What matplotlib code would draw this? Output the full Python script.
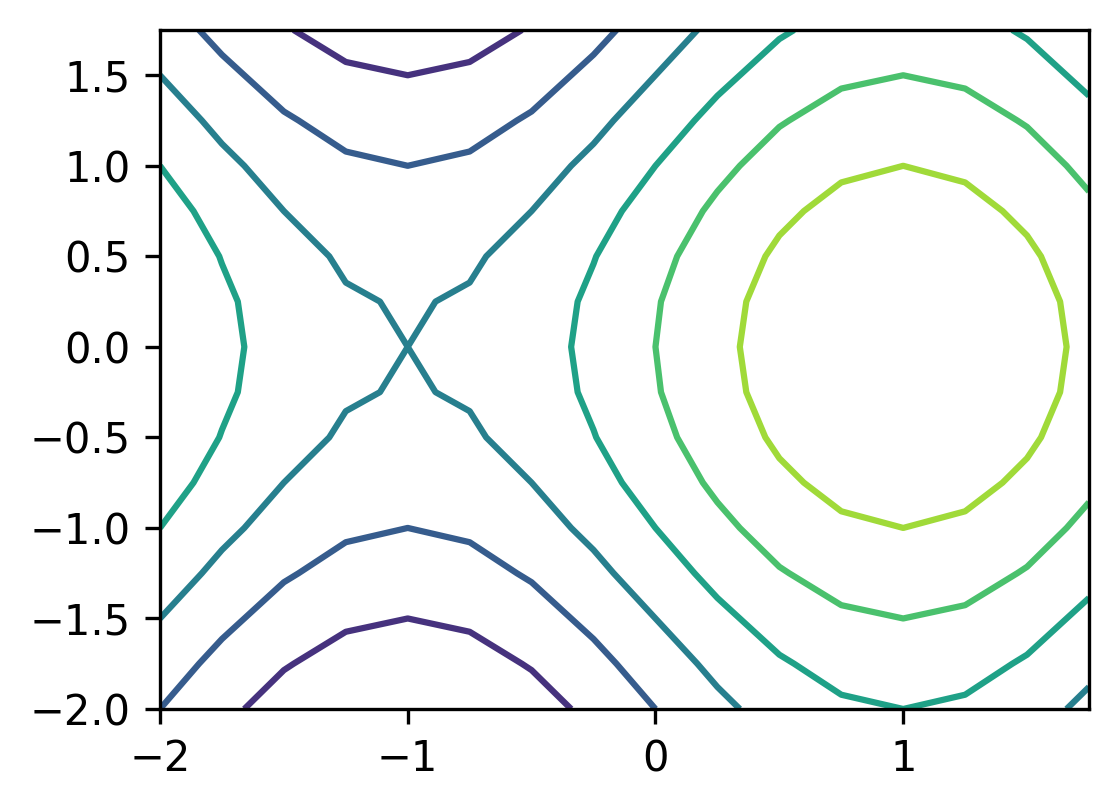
import matplotlib
matplotlib.use("Agg")
import matplotlib.pyplot as plt
import numpy as np

# grid positions (step 0.25)
x_vals = [-2.0, -1.75, -1.5, -1.25, -1.0, -0.75, -0.5, -0.25,
          0.0, 0.25, 0.5, 0.75, 1.0, 1.25, 1.5, 1.75]
y_vals = [-2.0, -1.75, -1.5, -1.25, -1.0, -0.75, -0.5, -0.25,
          0.0, 0.25, 0.5, 0.75, 1.0, 1.25, 1.5, 1.75]

# surface: it splits into a part along x and a part along y
zx_part = [0.0, -0.3827, -0.7071, -0.9239, -1.0, -0.9239, -0.7071, -0.3827,
           0.0, 0.3827, 0.7071, 0.9239, 1.0, 0.9239, 0.7071, 0.3827]
zy_part = [-0.5, -0.2588, 0.0, 0.2588, 0.5, 0.7071, 0.866, 0.9659,
           1.0, 0.9659, 0.866, 0.7071, 0.5, 0.2588, 0.0, -0.2588]

X, Y = np.meshgrid(x_vals, y_vals)
Z = np.add.outer(np.array(zy_part), np.array(zx_part))

fig = plt.figure(figsize=(1120 / 300, 808 / 300), dpi=300)
ax = fig.add_axes([160 / 1120, 1 - 709 / 808, 929 / 1120, 679 / 808])

ax.contour(X, Y, Z)

ax.set_xticks([-2, -1, 0, 1])
ax.set_yticks([-2.0, -1.5, -1.0, -0.5, 0.0, 0.5, 1.0, 1.5])

fig.savefig("out.png", dpi=300)
